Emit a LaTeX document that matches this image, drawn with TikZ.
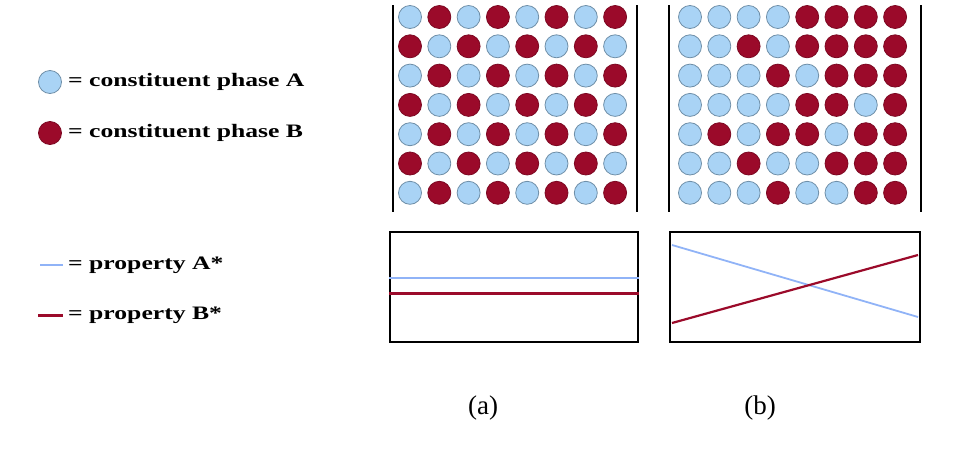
\documentclass[tikz,border=0pt]{standalone}
\usepackage{fontspec}
\setmainfont{Liberation Serif}
\definecolor{pa}{HTML}{A9D3F5}
\definecolor{pb}{HTML}{9B0A2A}
\definecolor{rimA}{HTML}{6F8FA8}
\newcommand{\wide}[1]{\scalebox{1.35}[1]{#1}}
\begin{document}
\begin{tikzpicture}[x=1pt,y=-1pt,
  ca/.style={circle,fill=pa,draw=rimA,line width=0.8pt,minimum size=23pt,inner sep=0},
  cb/.style={circle,fill=pb,draw=pb!80!black,line width=0.8pt,minimum size=23pt,inner sep=0},
  bar/.style={line width=2.4pt},
  lbl/.style={anchor=west,font=\fontsize{19}{22}\selectfont\bfseries,inner sep=0},
  la/.style={pa!85!blue,line width=2.4pt},
  lb/.style={pb,line width=3pt}]
\useasboundingbox (0,0) rectangle (960,450);
% legend
\node[ca] (lgA) at (50,82) {};
\node[lbl] (tA) at (68,82) {\wide{= constituent phase A}};
\node[cb] (lgB) at (50,133) {};
\node[lbl] (tB) at (68,133) {\wide{= constituent phase B}};
\coordinate (lA1) at (40,265); \coordinate (lA2) at (63,265);
\draw[la] (lA1) -- (lA2);
\node[lbl] (tpA) at (68,265) {\wide{= property A*}};
\coordinate (lB1) at (38,315); \coordinate (lB2) at (63,315);
\draw[lb] (lB1) -- (lB2);
\node[lbl] (tpB) at (68,315) {\wide{= property B*}};
% grid a
\coordinate (a1) at (393,5); \coordinate (a2) at (393,212);
\coordinate (a3) at (637,5); \coordinate (a4) at (637,212);
\draw[bar] (a1)--(a2); \draw[bar] (a3)--(a4);
\foreach \r in {0,...,6}{\foreach \c in {0,...,7}{
  \pgfmathtruncatemacro\p{mod(\r+\c,2)}
  \ifnum\p=0 \node[ca] (ga-\r-\c) at (410+29.3*\c,17+29.3*\r) {};
  \else \node[cb] (ga-\r-\c) at (410+29.3*\c,17+29.3*\r) {};\fi}}
% grid b
\coordinate (b1) at (669,5); \coordinate (b2) at (669,212);
\coordinate (b3) at (921,5); \coordinate (b4) at (921,212);
\draw[bar] (b1)--(b2); \draw[bar] (b3)--(b4);
\foreach \row [count=\r from 0] in {{0,0,0,0,1,1,1,1},{0,0,1,0,1,1,1,1},{0,0,0,1,0,1,1,1},{0,0,0,0,1,1,0,1},{0,1,0,1,1,0,1,1},{0,0,1,0,0,1,1,1},{0,0,0,1,0,0,1,1}}{
  \foreach \p [count=\c from 0] in \row {
    \ifnum\p=0 \node[ca] (gb-\r-\c) at (690+29.3*\c,17+29.3*\r) {};
    \else \node[cb] (gb-\r-\c) at (690+29.3*\c,17+29.3*\r) {};\fi}}
% property boxes
\node[draw,line width=1.8pt,minimum width=248pt,minimum height=110pt,inner sep=0] (pa) at (514,287) {};
\draw[la] (pa.west |- 0,278) coordinate (pa1) -- (pa.east |- 0,278) coordinate (pa2);
\draw[lb] (pa.west |- 0,293) coordinate (pb1) -- (pa.east |- 0,293) coordinate (pb2);
\node[draw,line width=1.8pt,minimum width=250pt,minimum height=110pt,inner sep=0] (pbx) at (795,287) {};
\coordinate (q1) at (672,245); \coordinate (q2) at (918,317);
\coordinate (q3) at (672,323); \coordinate (q4) at (918,255);
\draw[la,line width=1.8pt] (q1) -- (q2);
\draw[lb,line width=2.2pt] (q3) -- (q4);
\node[font=\fontsize{27}{30}\selectfont] (capa) at (483,408) {(a)};
\node[font=\fontsize{27}{30}\selectfont] (capb) at (760,408) {(b)};
\end{tikzpicture}
\end{document}
